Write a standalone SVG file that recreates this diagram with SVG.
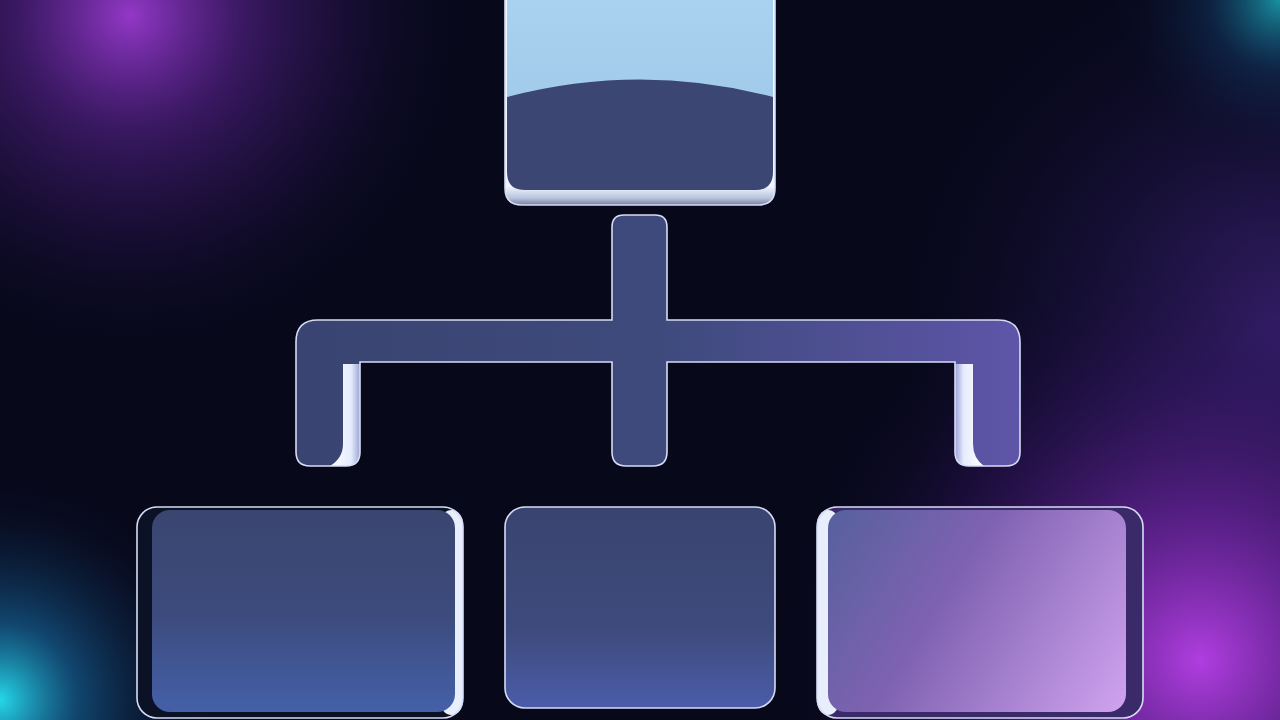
<svg xmlns="http://www.w3.org/2000/svg" width="1280" height="720" viewBox="0 0 1280 720">
<defs>
<style>
.outline{fill:none;stroke:#d6dcf5;stroke-width:1.6}
.rim{fill:#e8eefc}
</style>
<radialGradient id="gPurpleTL" cx="130" cy="15" r="330" gradientUnits="userSpaceOnUse">
<stop offset="0" stop-color="#9a3ad0" stop-opacity="0.95"/>
<stop offset="0.35" stop-color="#5a2390" stop-opacity="0.6"/>
<stop offset="1" stop-color="#1a1040" stop-opacity="0"/>
</radialGradient>
<radialGradient id="gCyanBL" cx="0" cy="700" r="220" gradientUnits="userSpaceOnUse">
<stop offset="0" stop-color="#25d8e8" stop-opacity="1"/>
<stop offset="0.35" stop-color="#1870a8" stop-opacity="0.6"/>
<stop offset="1" stop-color="#0a1030" stop-opacity="0"/>
</radialGradient>
<radialGradient id="gTealTR" cx="1280" cy="0" r="180" gradientUnits="userSpaceOnUse">
<stop offset="0" stop-color="#1aa0b0" stop-opacity="0.9"/>
<stop offset="0.4" stop-color="#103860" stop-opacity="0.5"/>
<stop offset="1" stop-color="#05081a" stop-opacity="0"/>
</radialGradient>
<radialGradient id="gPurpleBR" cx="1200" cy="660" r="420" gradientUnits="userSpaceOnUse">
<stop offset="0" stop-color="#b03ee0" stop-opacity="1"/>
<stop offset="0.35" stop-color="#6a249e" stop-opacity="0.75"/>
<stop offset="0.7" stop-color="#30145e" stop-opacity="0.4"/>
<stop offset="1" stop-color="#100a28" stop-opacity="0"/>
</radialGradient>
<radialGradient id="gPurpleR" cx="1280" cy="330" r="380" gradientUnits="userSpaceOnUse">
<stop offset="0" stop-color="#4a2a90" stop-opacity="0.7"/>
<stop offset="1" stop-color="#1a1040" stop-opacity="0"/>
</radialGradient>
<linearGradient id="gBarFill" x1="296" y1="0" x2="1020" y2="0" gradientUnits="userSpaceOnUse">
<stop offset="0" stop-color="#3a4472"/>
<stop offset="0.5" stop-color="#3e4a7c"/>
<stop offset="1" stop-color="#5e55a8"/>
</linearGradient>
<linearGradient id="gLeftFace" x1="0" y1="510" x2="0" y2="712" gradientUnits="userSpaceOnUse">
<stop offset="0" stop-color="#3a4670"/>
<stop offset="0.5" stop-color="#3c4a7c"/>
<stop offset="1" stop-color="#4560a8"/>
</linearGradient>
<linearGradient id="gMidFace" x1="0" y1="510" x2="0" y2="706" gradientUnits="userSpaceOnUse">
<stop offset="0" stop-color="#3a4470"/>
<stop offset="0.6" stop-color="#3d4a7c"/>
<stop offset="1" stop-color="#4a5ca8"/>
</linearGradient>
<linearGradient id="gRightFace" x1="828" y1="520" x2="1125" y2="705" gradientUnits="userSpaceOnUse">
<stop offset="0" stop-color="#57609e"/>
<stop offset="0.4" stop-color="#7f62b2"/>
<stop offset="1" stop-color="#cfa2ee"/>
</linearGradient>
<linearGradient id="gTopLight" x1="0" y1="0" x2="0" y2="100" gradientUnits="userSpaceOnUse">
<stop offset="0" stop-color="#a9d2f0"/>
<stop offset="1" stop-color="#a2cbeb"/>
</linearGradient>
<linearGradient id="gTopRim" x1="0" y1="186" x2="0" y2="206" gradientUnits="userSpaceOnUse">
<stop offset="0" stop-color="#f2f6ff"/>
<stop offset="0.6" stop-color="#b8c4dc"/>
<stop offset="1" stop-color="#6a7698"/>
</linearGradient>
<linearGradient id="gLegShine" x1="0" y1="0" x2="1" y2="0">
<stop offset="0" stop-color="#ffffff"/>
<stop offset="0.7" stop-color="#e6ecff"/>
<stop offset="1" stop-color="#9aa6d0"/>
</linearGradient>
<linearGradient id="gLegShineR" x1="1" y1="0" x2="0" y2="0">
<stop offset="0" stop-color="#ffffff"/>
<stop offset="0.7" stop-color="#e6ecff"/>
<stop offset="1" stop-color="#9aa0d8"/>
</linearGradient>
</defs>

<g id="background">
<rect width="1280" height="720" fill="#07081a"/>
<rect width="1280" height="720" fill="url(#gPurpleR)"/>
<rect width="1280" height="720" fill="url(#gPurpleTL)"/>
<rect width="1280" height="720" fill="url(#gCyanBL)"/>
<rect width="1280" height="720" fill="url(#gTealTR)"/>
<rect width="1280" height="720" fill="url(#gPurpleBR)"/>
</g>

<g id="connectors">
<path d="M 624 215 H 655 Q 667 215 667 227 V 320 H 998 Q 1020 320 1020 342 V 452 Q 1020 466 1006 466 H 969 Q 955 466 955 452 V 362 H 667 V 452 Q 667 466 653 466 H 626 Q 612 466 612 452 V 362 H 360 V 452 Q 360 466 346 466 H 310 Q 296 466 296 452 V 342 Q 296 320 318 320 H 612 V 227 Q 612 215 624 215 Z" fill="url(#gBarFill)"/>
<path d="M 343 364 H 360 V 452 Q 360 466 346 466 H 330 Q 343 458 343 444 Z" fill="url(#gLegShine)"/>
<path d="M 955 364 H 973 V 444 Q 973 458 984 466 H 969 Q 955 466 955 452 Z" fill="url(#gLegShineR)"/>
<path class="outline" d="M 624 215 H 655 Q 667 215 667 227 V 320 H 998 Q 1020 320 1020 342 V 452 Q 1020 466 1006 466 H 969 Q 955 466 955 452 V 362 H 667 V 452 Q 667 466 653 466 H 626 Q 612 466 612 452 V 362 H 360 V 452 Q 360 466 346 466 H 310 Q 296 466 296 452 V 342 Q 296 320 318 320 H 612 V 227 Q 612 215 624 215 Z"/>
</g>

<g id="node-top">
<path d="M 505 -5 H 775 V 188 Q 775 205 758 205 H 522 Q 505 205 505 188 Z" fill="url(#gTopRim)"/>
<path d="M 507 -5 H 773 V 172 Q 773 190 755 190 H 525 Q 507 190 507 172 Z" fill="#3b4672"/>
<path d="M 507 -5 H 773 V 97 Q 640 62 507 97 Z" fill="url(#gTopLight)"/>
<path class="outline" d="M 505 -5 H 775 V 188 Q 775 205 758 205 H 522 Q 505 205 505 188 Z"/>
</g>

<g id="node-left">
<rect x="137" y="507" width="326" height="211" rx="20" fill="#0c1226"/>
<rect x="440" y="510" width="23" height="205" rx="14" class="rim"/>
<rect x="152" y="510" width="303" height="202" rx="18" fill="url(#gLeftFace)"/>
<rect x="137" y="507" width="326" height="211" rx="20" class="outline"/>
</g>

<g id="node-middle">
<rect x="505" y="507" width="270" height="201" rx="20" fill="url(#gMidFace)"/>
<rect x="505" y="507" width="270" height="201" rx="20" class="outline"/>
</g>

<g id="node-right">
<rect x="817" y="507" width="326" height="211" rx="20" fill="#3a2a6a"/>
<rect x="817" y="510" width="22" height="205" rx="14" class="rim"/>
<rect x="828" y="510" width="298" height="202" rx="18" fill="url(#gRightFace)"/>
<rect x="817" y="507" width="326" height="211" rx="20" class="outline" stroke="#e0d8ff"/>
</g>
</svg>
